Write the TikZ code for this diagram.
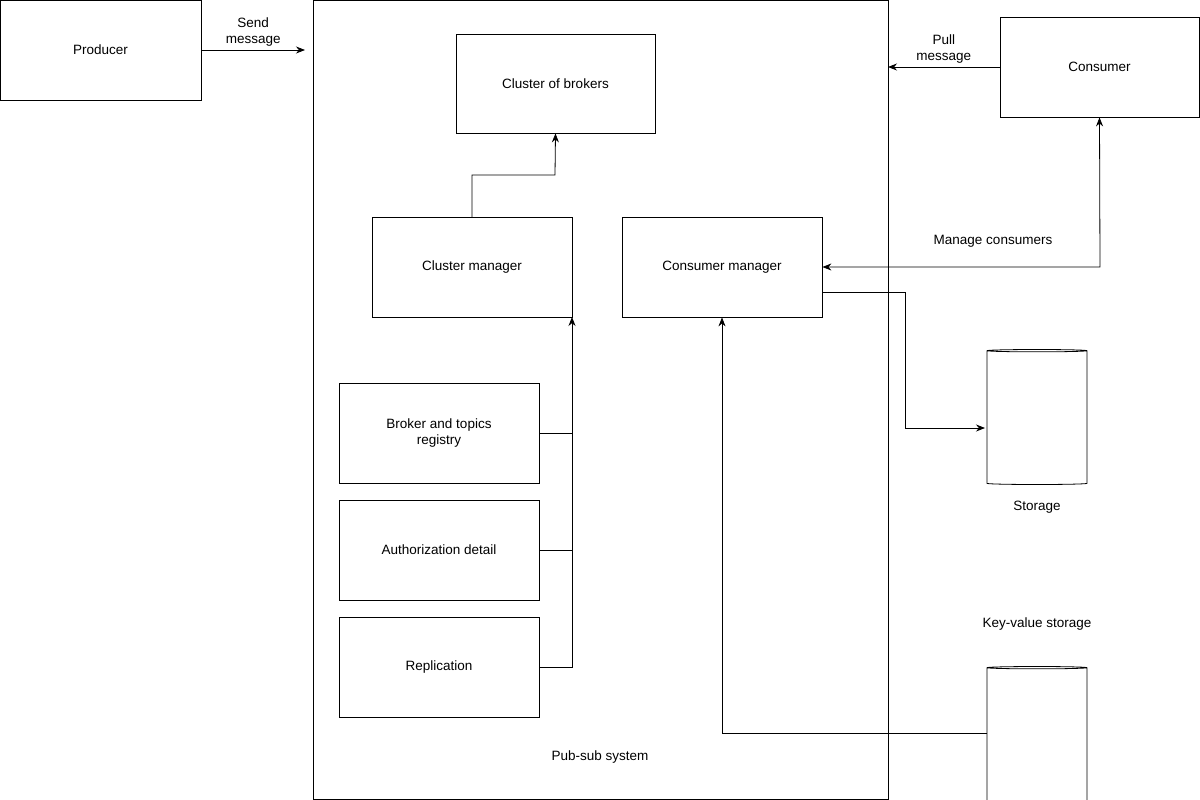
\documentclass[tikz,border=0pt]{standalone}
\usepackage{fontspec}
\setmainfont{Liberation Sans}
\usetikzlibrary{shapes.geometric,arrows.meta}
\begin{document}
\begin{tikzpicture}[x=1pt,y=-1pt,
  box/.style={draw,thick,rectangle,font=\fontsize{13.5}{16}\selectfont,align=center,inner sep=0},
  lbl/.style={font=\fontsize{13.5}{16}\selectfont,align=center},
  cyl/.style={draw,thick,cylinder,shape border rotate=90,aspect=0.35,minimum width=100pt,minimum height=135pt},
  arr/.style={thick,-{Stealth[length=9pt,width=7pt]}}]
\useasboundingbox (0,0) rectangle (1200,800);
\node[box,minimum width=201pt,minimum height=100pt] (prod) at (100.5,50) {Producer};
\node[box,minimum width=575pt,minimum height=799pt] (pub) at (600.5,400) {};
\node[lbl] (publ) at (600,757) {Pub-sub system};
\node[box,minimum width=199pt,minimum height=99pt] (cob) at (555.5,83.5) {Cluster of brokers};
\node[box,minimum width=200pt,minimum height=100pt] (cm) at (472,267) {Cluster manager};
\node[box,minimum width=200pt,minimum height=100pt] (csm) at (722,267) {Consumer manager};
\node[box,minimum width=200pt,minimum height=100pt] (reg) at (439,433) {Broker and topics\\registry};
\node[box,minimum width=200pt,minimum height=100pt] (auth) at (439,550) {Authorization detail};
\node[box,minimum width=200pt,minimum height=100pt] (rep) at (439,667) {Replication};
\node[box,minimum width=199pt,minimum height=100pt] (cons) at (1099.5,67) {Consumer};
\node[cyl] (st) at (1037,418) {};
\node[lbl] (stl) at (1037,507) {Storage};
\node[cyl] (kv) at (1037,735) {};
\node[lbl] (kvl) at (1037,624) {Key-value storage};
\coordinate (pubL) at (305,50);
\coordinate (pubR) at (888,67);
\draw[arr] (prod.east|-0,50) -- (pubL) node[lbl,midway,above] {Send\\message};
\draw[arr] (cons.west) -- (pubR) node[lbl,midway,above] {Pull\\message};
\draw[arr] (472,217) -- (472,175) -- (555,175) -- (cob.south);
\draw[thick] (reg.east) -- (572,433);
\draw[thick] (auth.east) -- (572,550);
\draw[arr] (rep.east) -- (572,667) -- (572,317);
\draw[arr,{Stealth[length=9pt,width=7pt]}-{Stealth[length=9pt,width=7pt]}] (csm.east) -- (1100,267) -- (cons.south);
\node[lbl] at (993,241) {Manage consumers};
\draw[arr] (822,292) -- (905,292) -- (905,428) -- (985,428);
\draw[arr] (987,733) -- (722,733) -- (csm.south);
\end{tikzpicture}
\end{document}
